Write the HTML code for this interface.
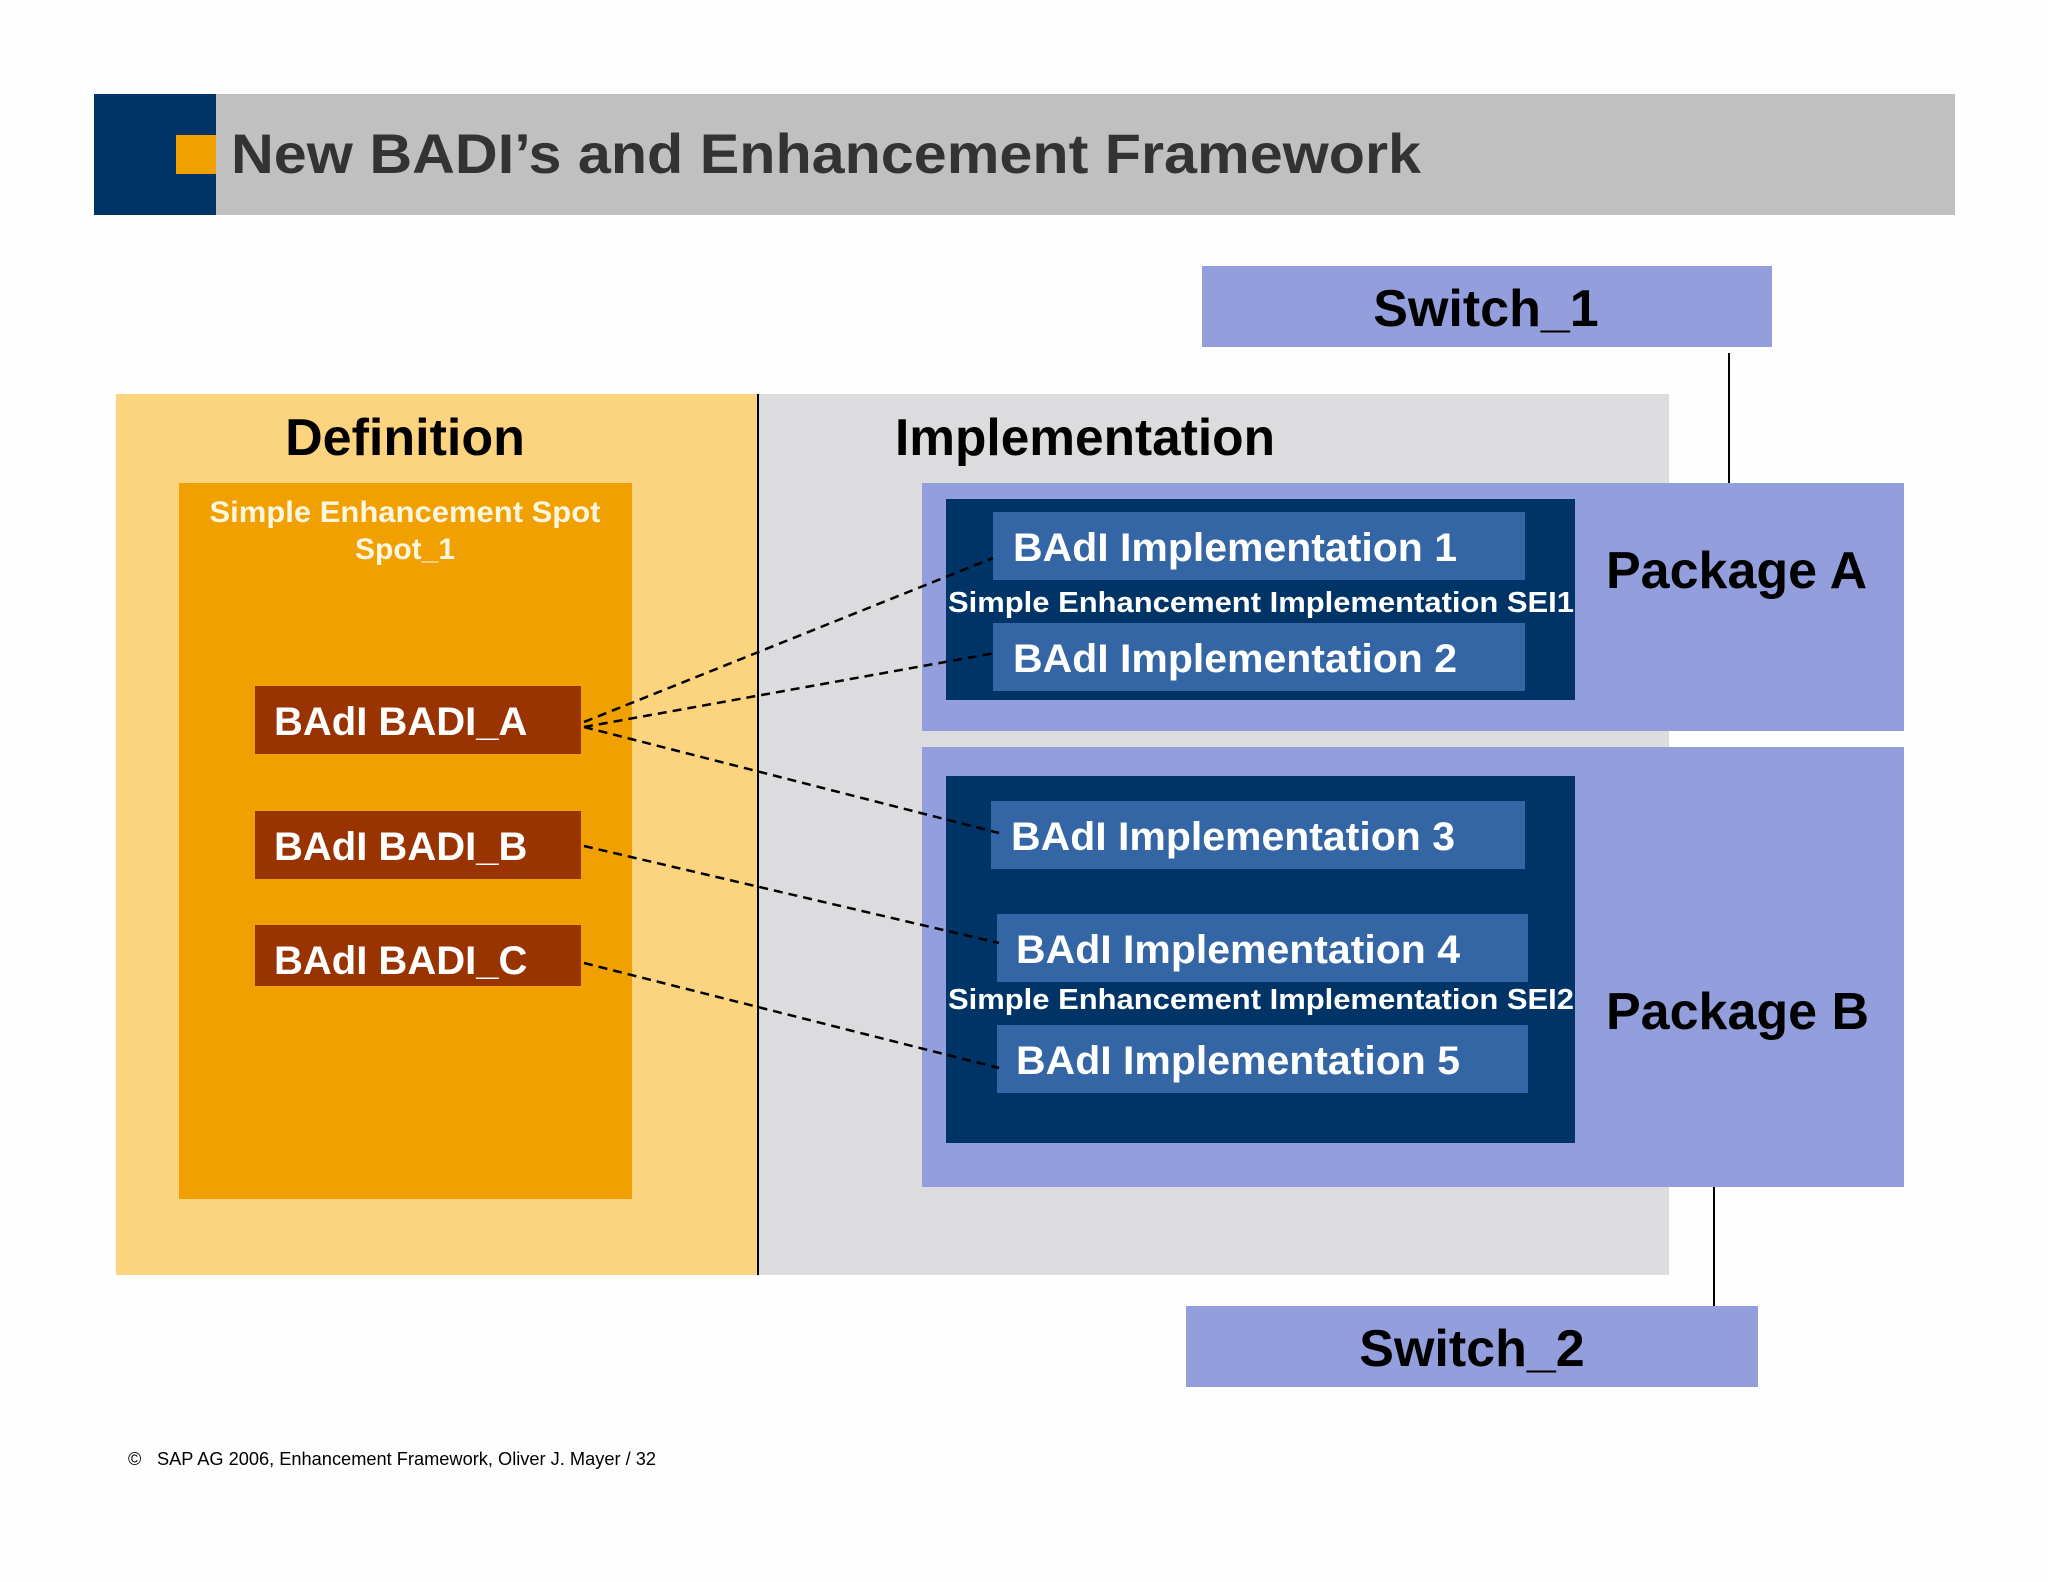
<!DOCTYPE html>
<html><head><meta charset="utf-8"><style>
html,body{margin:0;padding:0;background:#fff;}
svg{display:block;font-family:"Liberation Sans",Arial,sans-serif;font-weight:bold;}
</style></head><body>
<svg width="2048" height="1582" viewBox="0 0 2048 1582" xmlns="http://www.w3.org/2000/svg">
<rect width="2048" height="1582" fill="#fefefe"/>
<!-- header -->
<rect x="94" y="94" width="1861" height="121" fill="#c0c0c0"/>
<rect x="94" y="94" width="122" height="121" fill="#003366"/>
<rect x="176" y="135" width="40" height="39" fill="#f0a000"/>
<text x="231" y="173" font-size="56" fill="#333333" textLength="1190" lengthAdjust="spacingAndGlyphs">New BADI’s and Enhancement Framework</text>
<!-- switch 1 -->
<rect x="1202" y="266" width="570" height="81" fill="#939fdd"/>
<text x="1486" y="326" font-size="52" fill="#000" text-anchor="middle">Switch_1</text>
<line x1="1729" y1="353" x2="1729" y2="484" stroke="#000" stroke-width="2"/>
<!-- panels -->
<rect x="116" y="394" width="642" height="881" fill="#fcd480"/>
<rect x="758" y="394" width="911" height="881" fill="#dcdcdf"/>
<line x1="758" y1="394" x2="758" y2="1275" stroke="#000" stroke-width="2"/>
<text x="405" y="455" font-size="52" fill="#000" text-anchor="middle">Definition</text>
<text x="895" y="455" font-size="52" fill="#000" textLength="380" lengthAdjust="spacingAndGlyphs">Implementation</text>
<!-- spot -->
<rect x="179" y="483" width="453" height="716" fill="#f0a000"/>
<text x="405" y="522" font-size="30" fill="#fff6e0" text-anchor="middle" textLength="391" lengthAdjust="spacingAndGlyphs">Simple Enhancement Spot</text>
<text x="405" y="559" font-size="30" fill="#fff6e0" text-anchor="middle">Spot_1</text>
<rect x="255" y="686" width="326" height="68" fill="#993300"/>
<text x="274" y="735" font-size="40" fill="#fff">BAdI BADI_A</text>
<rect x="255" y="811" width="326" height="68" fill="#993300"/>
<text x="274" y="860" font-size="40" fill="#fff">BAdI BADI_B</text>
<rect x="255" y="925" width="326" height="61" fill="#993300"/>
<text x="274" y="974" font-size="40" fill="#fff">BAdI BADI_C</text>
<!-- packages -->
<rect x="922" y="483" width="982" height="248" fill="#939fdd"/>
<rect x="922" y="747" width="982" height="440" fill="#939fdd"/>
<text x="1606" y="588" font-size="52" fill="#000">Package A</text>
<text x="1606" y="1029" font-size="52" fill="#000">Package B</text>
<rect x="946" y="499" width="629" height="201" fill="#003366"/>
<rect x="946" y="776" width="629" height="367" fill="#003366"/>
<rect x="993" y="512" width="532" height="68" fill="#3465a4"/>
<text x="1013" y="561" font-size="40" fill="#fff" textLength="444" lengthAdjust="spacingAndGlyphs">BAdI Implementation 1</text>
<text x="948" y="612" font-size="29" fill="#fff" textLength="626" lengthAdjust="spacingAndGlyphs">Simple Enhancement Implementation SEI1</text>
<rect x="993" y="623" width="532" height="68" fill="#3465a4"/>
<text x="1013" y="672" font-size="40" fill="#fff" textLength="444" lengthAdjust="spacingAndGlyphs">BAdI Implementation 2</text>
<rect x="991" y="801" width="534" height="68" fill="#3465a4"/>
<text x="1011" y="850" font-size="40" fill="#fff" textLength="444" lengthAdjust="spacingAndGlyphs">BAdI Implementation 3</text>
<rect x="997" y="914" width="531" height="68" fill="#3465a4"/>
<text x="1016" y="963" font-size="40" fill="#fff" textLength="444" lengthAdjust="spacingAndGlyphs">BAdI Implementation 4</text>
<text x="948" y="1009" font-size="29" fill="#fff" textLength="626" lengthAdjust="spacingAndGlyphs">Simple Enhancement Implementation SEI2</text>
<rect x="997" y="1025" width="531" height="68" fill="#3465a4"/>
<text x="1016" y="1074" font-size="40" fill="#fff" textLength="444" lengthAdjust="spacingAndGlyphs">BAdI Implementation 5</text>
<!-- dashed connectors -->
<g stroke="#000" stroke-width="2.5" stroke-dasharray="9,6" fill="none">
<line x1="584" y1="722" x2="993" y2="558"/>
<line x1="584" y1="727" x2="995" y2="653"/>
<line x1="584" y1="727" x2="999" y2="833"/>
<line x1="584" y1="846" x2="999" y2="943"/>
<line x1="584" y1="963" x2="999" y2="1068"/>
</g>
<!-- switch 2 -->
<line x1="1714" y1="1187" x2="1714" y2="1306" stroke="#000" stroke-width="2"/>
<rect x="1186" y="1306" width="572" height="81" fill="#939fdd"/>
<text x="1472" y="1366" font-size="52" fill="#000" text-anchor="middle">Switch_2</text>
<text x="128" y="1465" font-size="18" fill="#000" style="font-weight:normal">©</text>
<text x="157" y="1465" font-size="18" fill="#000" style="font-weight:normal" textLength="499" lengthAdjust="spacingAndGlyphs">SAP AG 2006, Enhancement Framework, Oliver J. Mayer / 32</text>
</svg>
</body></html>
